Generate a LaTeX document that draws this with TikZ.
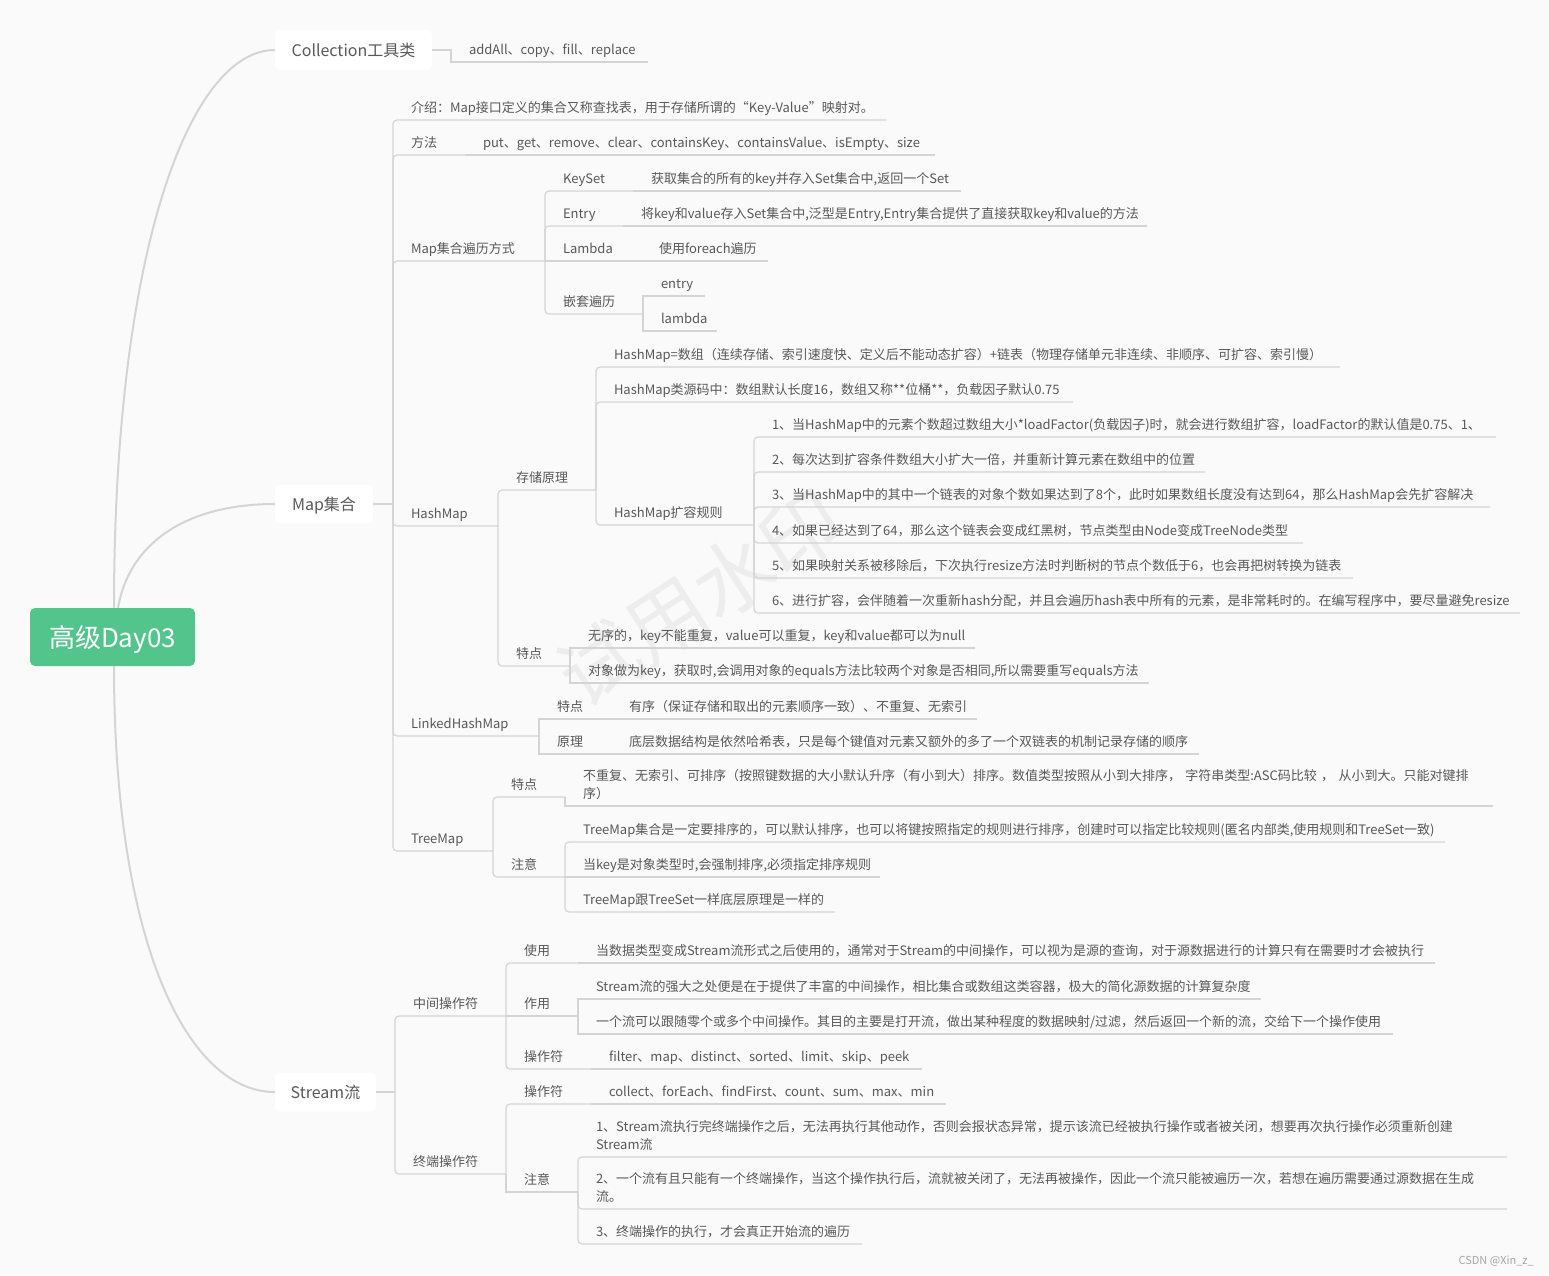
\documentclass[tikz,border=0pt]{standalone}
\usepackage{fontspec}
\setmainfont{Noto Sans CJK SC}
\definecolor{bgc}{HTML}{FAFAFA}
\definecolor{txtc}{HTML}{595959}
\definecolor{linec}{HTML}{D4D4D4}
\definecolor{rootc}{HTML}{52C48C}
\tikzset{
  topic/.style={inner xsep=18pt,inner ysep=0pt,outer sep=0pt,anchor=south west,align=left,text=txtc,font=\fontsize{13}{18}\selectfont},
  boxed/.style={fill=white,rounded corners=5pt,text=txtc,inner sep=0pt,font=\fontsize{16}{20}\selectfont,text height=14pt,text depth=2pt},
  link/.style={draw=linec,line width=1.2pt,rounded corners=4pt},
  sharp/.style={draw=linec,line width=1.2pt},
  branch/.style={draw=linec,line width=2pt},
}
\newcommand\topic[6]{\node[topic,minimum height=\the\numexpr #5-2\relax pt,text width=\the\numexpr #3-#2-36\relax pt] (#1) at (#2,#4) {\strut#6\strut};}
\newcommand\lkr[2]{\draw[link] (#1.south east) |- (#2.south east);}
\newcommand\lks[2]{\draw[sharp] (#1.south east) |- (#2.south east);}
\newcommand\lkt[2]{\draw[sharp] (#1.south east) -- (#2.south east);}
\begin{document}
\begin{tikzpicture}[x=1pt,y=-1pt]
\useasboundingbox (0,0) rectangle (1549,1275);
\fill[bgc] (0,0) rectangle (1549,1275);
\node[rotate=33,text=black!7,font=\fontsize{80}{80}\selectfont,inner sep=0pt] (wm) at (700,598) {试用水印};
\node[text=black!35,font=\fontsize{11}{12}\selectfont,anchor=east,inner sep=0pt] (csdn) at (1534,1261) {CSDN @Xin\_z\_};
% root and main topics
\node[fill=rootc,rounded corners=5pt,text=white,font=\fontsize{26}{30}\selectfont,minimum width=165pt,minimum height=58pt,inner sep=0pt,text height=22pt,text depth=2pt] (root) at (112.5,637) {高级Day03};
\node[boxed,minimum width=157pt,minimum height=40pt] (coll) at (353.5,50) {Collection工具类};
\node[boxed,minimum width=98pt,minimum height=39pt] (mapb) at (324,504) {Map集合};
\node[boxed,minimum width=101pt,minimum height=39pt] (strm) at (325.5,1092) {Stream流};
\coordinate (rt1) at ([xshift=1.5pt]root.north);
\coordinate (rt2) at ([xshift=5.5pt]root.north);
\coordinate (rtb) at ([xshift=1.5pt]root.south);
\draw[branch] (rt1) .. controls (114,250) and (190,50) .. (coll.west);
\draw[branch] (rt2) .. controls (130,540) and (190,504) .. (mapb.west);
\draw[branch] (rtb) .. controls (114,950) and (190,1092) .. (strm.west);
% Collection
\topic{addall}{451}{648}{62}{24}{\mbox{addAll、copy、fill、replace}}
\draw[sharp] (coll.east) -| (addall.south west) -- (addall.south east);
% Map level 2
\topic{intro}{393}{886}{120}{24}{\mbox{介绍：Map接口定义的集合又称查找表，用于存储所谓的“Key-Value”映射对。}}
\topic{meth}{393}{465}{155}{24}{\mbox{方法}}
\topic{methk}{465}{935}{155}{24}{\mbox{put、get、remove、clear、containsKey、containsValue、isEmpty、size}}
\topic{trav}{393}{545}{261}{24}{\mbox{Map集合遍历方式}}
\topic{hm}{393}{498}{526}{24}{\mbox{HashMap}}
\topic{lhm}{393}{539}{736}{24}{\mbox{LinkedHashMap}}
\topic{tm}{393}{493}{851}{24}{\mbox{TreeMap}}
\coordinate (mj) at (mapb.east -| intro.south west);
\draw[sharp] (mapb.east) -- (mj);
\foreach \k in {intro,meth,trav,hm,lhm,tm} {\draw[link] (mj) |- (\k.south east);}
\lkt{meth}{methk}
% traversal
\topic{ks}{545}{633}{191}{24}{\mbox{KeySet}}
\topic{ksk}{633}{961}{191}{24}{\mbox{获取集合的所有的key并存入Set集合中,返回一个Set}}
\topic{en}{545}{623}{226}{24}{\mbox{Entry}}
\topic{enk}{623}{1147}{226}{24}{\mbox{将key和value存入Set集合中,泛型是Entry,Entry集合提供了直接获取key和value的方法}}
\topic{la}{545}{641}{261}{24}{\mbox{Lambda}}
\topic{lak}{641}{768}{261}{24}{\mbox{使用foreach遍历}}
\topic{ne}{545}{643}{314}{24}{\mbox{嵌套遍历}}
\topic{nea}{643}{705}{296}{24}{\mbox{entry}}
\topic{neb}{643}{717}{331}{24}{\mbox{lambda}}
\lkr{trav}{ks}\lkr{trav}{en}\lkr{trav}{ne}
\lkt{trav}{la}
\lkt{ks}{ksk}\lkt{en}{enk}\lkt{la}{lak}
\lks{ne}{nea}\lks{ne}{neb}
% HashMap
\topic{store}{498}{596}{490}{24}{\mbox{存储原理}}
\topic{feat}{498}{570}{666}{24}{\mbox{特点}}
\lkr{hm}{store}\lkr{hm}{feat}
\topic{hma}{596}{1340}{367}{24}{\mbox{HashMap=数组（连续存储、索引速度快、定义后不能动态扩容）+链表（物理存储单元非连续、非顺序、可扩容、索引慢）}}
\topic{hmb}{596}{1073}{402}{24}{\mbox{HashMap类源码中：数组默认长度16，数组又称**位桶**，负载因子默认0.75}}
\topic{hmc}{596}{754}{525}{24}{\mbox{HashMap扩容规则}}
\lkr{store}{hma}\lkr{store}{hmb}\lkr{store}{hmc}
\topic{ra}{754}{1496}{437}{24}{\mbox{1、当HashMap中的元素个数超过数组大小*loadFactor(负载因子)时，就会进行数组扩容，loadFactor的默认值是0.75、1、}}
\topic{rb}{754}{1205}{472}{24}{\mbox{2、每次达到扩容条件数组大小扩大一倍，并重新计算元素在数组中的位置}}
\topic{rc}{754}{1490}{507}{24}{\mbox{3、当HashMap中的其中一个链表的对象个数如果达到了8个，此时如果数组长度没有达到64，那么HashMap会先扩容解决}}
\topic{rd}{754}{1303}{543}{24}{\mbox{4、如果已经达到了64，那么这个链表会变成红黑树，节点类型由Node变成TreeNode类型}}
\topic{re}{754}{1353}{578}{24}{\mbox{5、如果映射关系被移除后，下次执行resize方法时判断树的节点个数低于6，也会再把树转换为链表}}
\topic{rf}{754}{1520}{613}{24}{\mbox{6、进行扩容，会伴随着一次重新hash分配，并且会遍历hash表中所有的元素，是非常耗时的。在编写程序中，要尽量避免resize}}
\foreach \k in {ra,rb,rc,rd,re,rf} {\draw[link] (hmc.south east) |- (\k.south east);}
\topic{fa}{570}{975}{648}{24}{\mbox{无序的，key不能重复，value可以重复，key和value都可以为null}}
\topic{fb}{570}{1149}{683}{24}{\mbox{对象做为key，获取时,会调用对象的equals方法比较两个对象是否相同,所以需要重写equals方法}}
\lks{feat}{fa}\lks{feat}{fb}
% LinkedHashMap
\topic{lfe}{539}{611}{719}{24}{\mbox{特点}}
\topic{lfek}{611}{977}{719}{24}{\mbox{有序（保证存储和取出的元素顺序一致）、不重复、无索引}}
\topic{lpr}{539}{611}{754}{24}{\mbox{原理}}
\topic{lprk}{611}{1199}{754}{24}{\mbox{底层数据结构是依然哈希表，只是每个键值对元素又额外的多了一个双链表的机制记录存储的顺序}}
\lks{lhm}{lfe}\lks{lhm}{lpr}\lkt{lfe}{lfek}\lkt{lpr}{lprk}
% TreeMap
\topic{tfe}{493}{565}{797}{24}{\mbox{特点}}
\topic{tno}{493}{565}{877}{24}{\mbox{注意}}
\lkr{tm}{tfe}\lkr{tm}{tno}
\topic{tfek}{565}{1493}{806}{42}{\mbox{不重复、无索引、可排序（按照键数据的大小默认升序（有小到大）排序。数值类型按照从小到大排序， 字符串类型:ASC码比较 ， 从小到大。只能对键排}\\\mbox{序）}}
\lks{tfe}{tfek}
\topic{tna}{565}{1445}{842}{24}{\mbox{TreeMap集合是一定要排序的，可以默认排序，也可以将键按照指定的规则进行排序，创建时可以指定比较规则(匿名内部类,使用规则和TreeSet一致)}}
\topic{tnb}{565}{880}{877}{24}{\mbox{当key是对象类型时,会强制排序,必须指定排序规则}}
\topic{tnc}{565}{835}{912}{24}{\mbox{TreeMap跟TreeSet一样底层原理是一样的}}
\lkr{tno}{tna}\lkr{tno}{tnc}\lkt{tno}{tnb}
% Stream
\topic{mid}{395}{506}{1016}{24}{\mbox{中间操作符}}
\topic{term}{395}{506}{1174}{24}{\mbox{终端操作符}}
\coordinate (sj) at (strm.east -| mid.south west);
\draw[sharp] (strm.east) -- (sj);
\draw[link] (sj) |- (mid.south east);
\draw[link] (sj) |- (term.south east);
\topic{use}{506}{578}{963}{24}{\mbox{使用}}
\topic{usek}{578}{1435}{963}{24}{\mbox{当数据类型变成Stream流形式之后使用的，通常对于Stream的中间操作，可以视为是源的查询，对于源数据进行的计算只有在需要时才会被执行}}
\topic{act}{506}{578}{1016}{24}{\mbox{作用}}
\topic{acta}{578}{1261}{999}{24}{\mbox{Stream流的强大之处便是在于提供了丰富的中间操作，相比集合或数组这类容器，极大的简化源数据的计算复杂度}}
\topic{actb}{578}{1393}{1034}{24}{\mbox{一个流可以跟随零个或多个中间操作。其目的主要是打开流，做出某种程度的数据映射/过滤，然后返回一个新的流，交给下一个操作使用}}
\topic{op}{506}{591}{1069}{24}{\mbox{操作符}}
\topic{opk}{591}{922}{1069}{24}{\mbox{filter、map、distinct、sorted、limit、skip、peek}}
\lkr{mid}{use}\lkr{mid}{op}\lkt{mid}{act}
\lkt{use}{usek}\lkt{op}{opk}
\lks{act}{acta}\lks{act}{actb}
\topic{eop}{506}{591}{1104}{24}{\mbox{操作符}}
\topic{eopk}{591}{946}{1104}{24}{\mbox{collect、forEach、findFirst、count、sum、max、min}}
\topic{eno}{506}{578}{1192}{24}{\mbox{注意}}
\lkr{term}{eop}\lks{term}{eno}\lkt{eop}{eopk}
\topic{ena}{578}{1507}{1157}{42}{\mbox{1、Stream流执行完终端操作之后，无法再执行其他动作，否则会报状态异常，提示该流已经被执行操作或者被关闭，想要再次执行操作必须重新创建}\\\mbox{Stream流}}
\topic{enb}{578}{1507}{1209}{42}{\mbox{2、一个流有且只能有一个终端操作，当这个操作执行后，流就被关闭了，无法再被操作，因此一个流只能被遍历一次，若想在遍历需要通过源数据在生成}\\\mbox{流。}}
\topic{enc}{578}{862}{1244}{24}{\mbox{3、终端操作的执行，才会真正开始流的遍历}}
\lkr{eno}{ena}\lkr{eno}{enb}\lkr{eno}{enc}
\end{tikzpicture}
\end{document}
